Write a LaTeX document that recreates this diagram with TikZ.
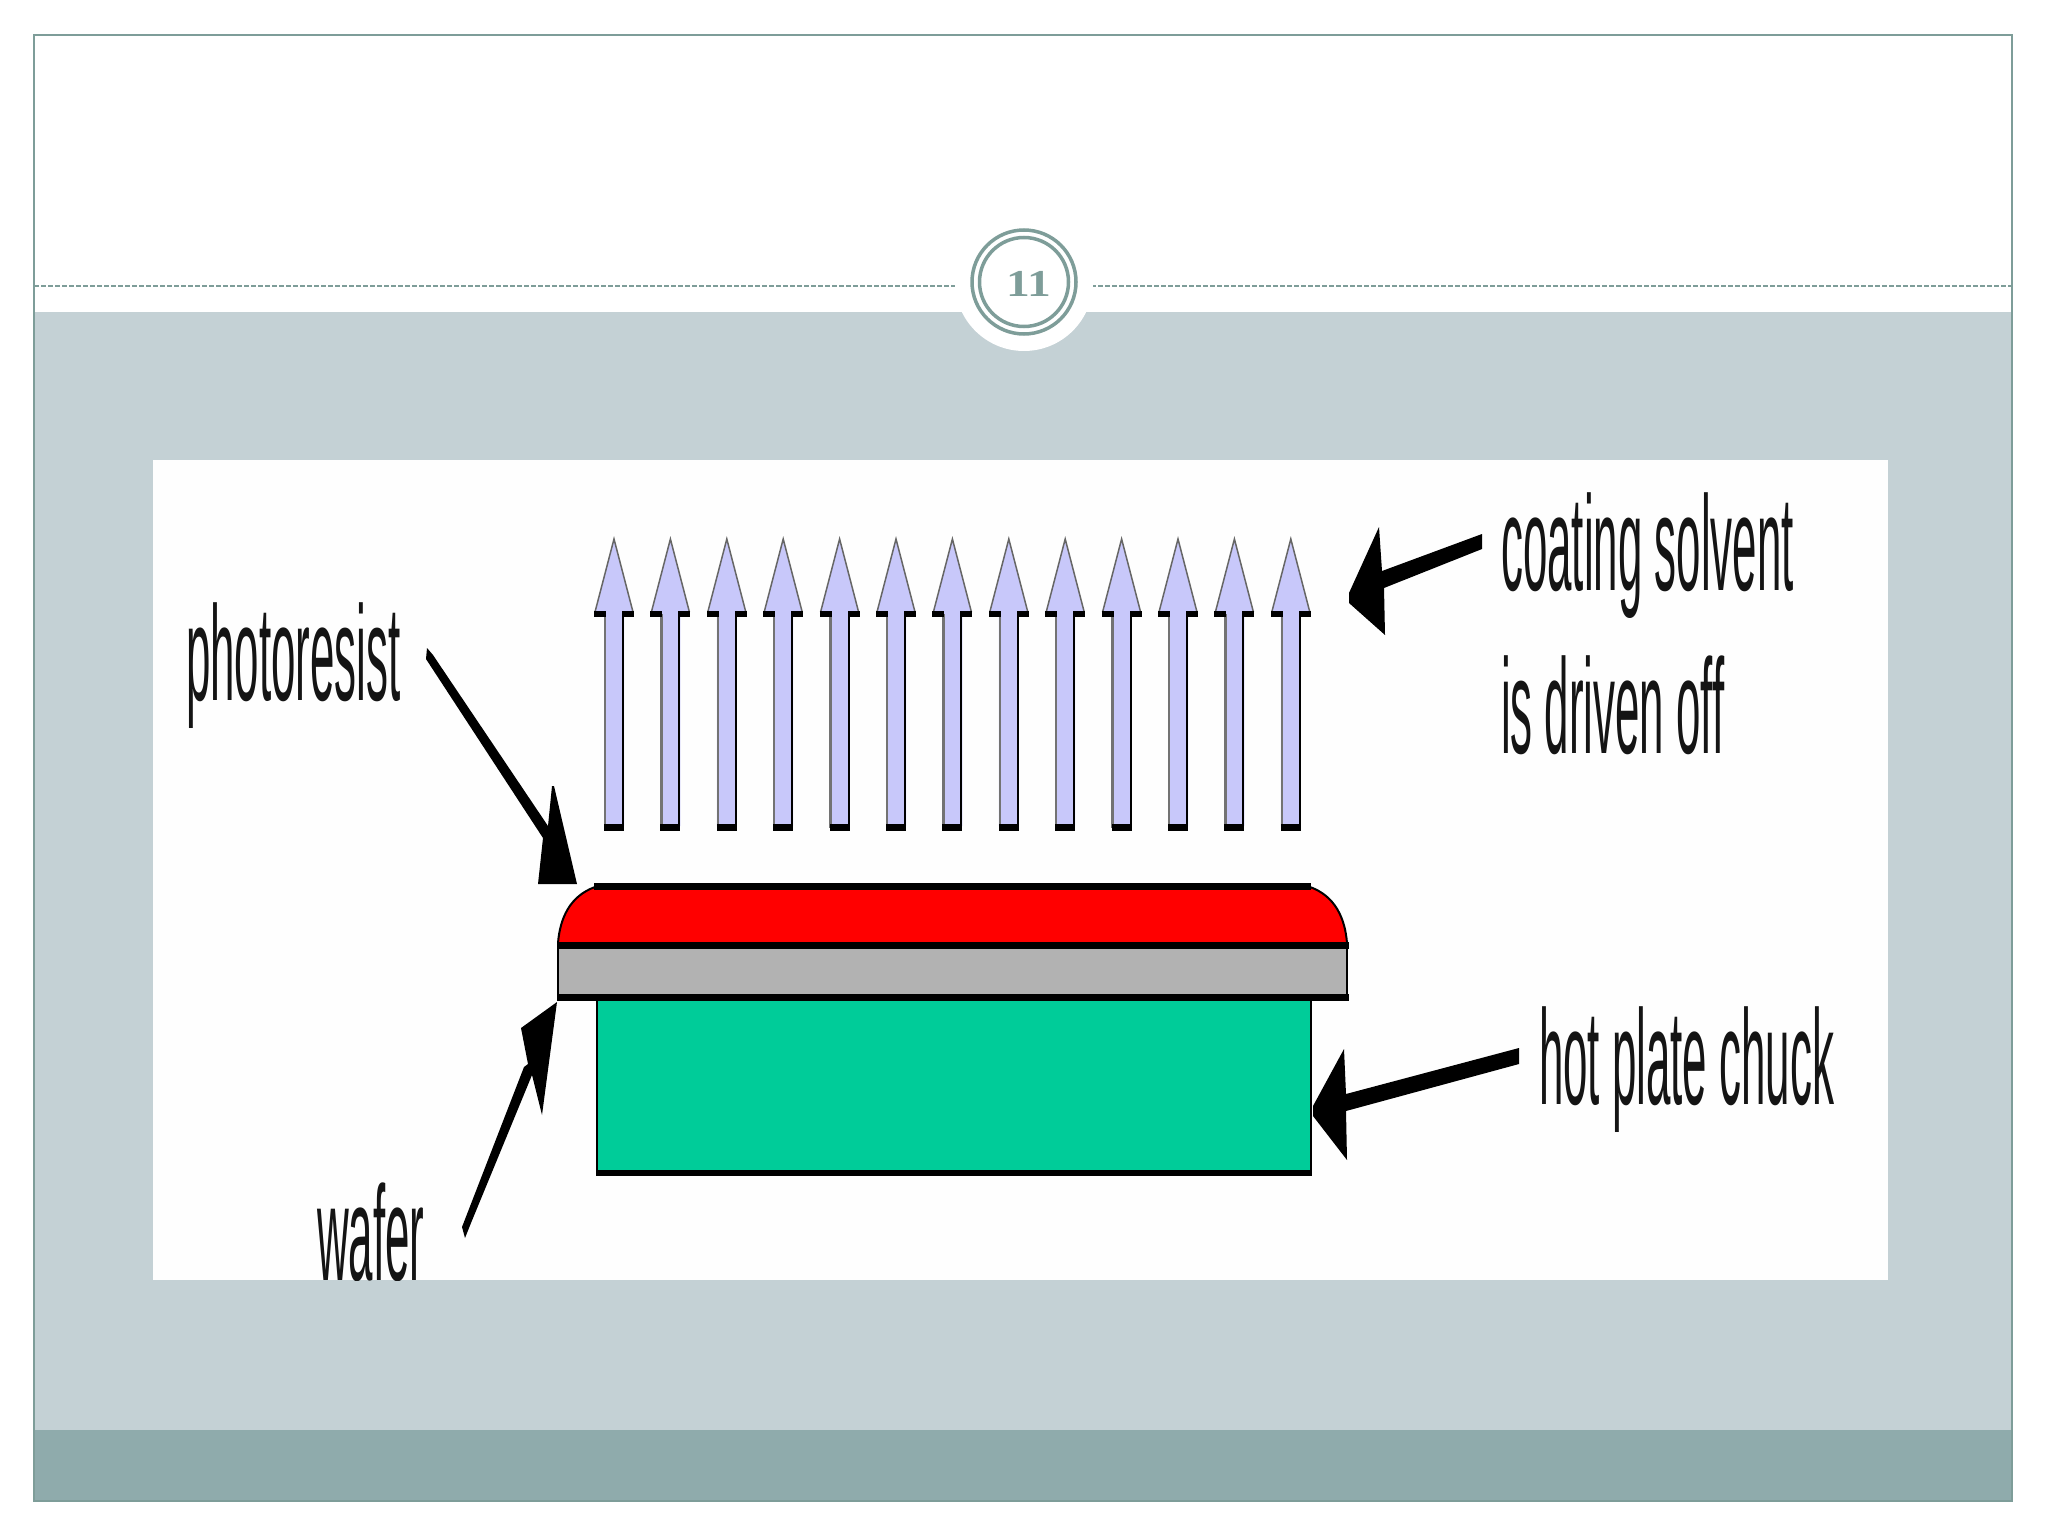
\documentclass[tikz,border=0pt]{standalone}
\usepackage{fontspec}
\setmainfont{Liberation Sans}
\newfontfamily\numfont{Liberation Serif}
\usetikzlibrary{positioning}
\definecolor{slideband}{HTML}{C4D1D5}
\definecolor{slidefoot}{HTML}{8FABAC}
\definecolor{slideline}{HTML}{7E9D99}
\definecolor{ventfill}{HTML}{C8C8FA}
\definecolor{chuckgreen}{HTML}{00CC99}
\definecolor{wafergray}{HTML}{B2B2B2}
\definecolor{paper}{HTML}{FEFEFE}
\tikzset{
    callout/.style={font=\fontsize{135}{135}\selectfont,xscale=0.325,anchor=base west,inner sep=0pt,text=black!92},
    pointer/.style={fill=black,draw=none}
}
\begin{document}
\begin{tikzpicture}[x=1pt,y=-1pt]
    \useasboundingbox (0,0) rectangle (2048,1536);
    \fill[white] (0,0) rectangle (2048,1536);

    % slide frame
    \fill[slideband] (34,312) rectangle (2012,1430);
    \fill[slidefoot] (34,1430) rectangle (2012,1501);
    \draw[slideline,line width=2pt] (34,34.7) rectangle (2012,1501);
    \draw[slideline,line width=1.5pt,dash pattern=on 5pt off 2pt] (34,286) -- (2012,286);
    \fill[white] (1024,282) circle (69);
    \draw[slideline,line width=3.5pt] (1024,282) circle (52);
    \draw[slideline,line width=3.5pt] (1024,282) circle (44.5);
    \node[inner sep=0pt,text=slideline,xscale=1.25] (pagenum) at (1029,284) {\fontsize{38}{38}\selectfont\numfont\bfseries 11};

    \begin{scope}
        \clip (153,460) rectangle (1888,1280);
        \fill[paper] (153,460) rectangle (1888,1280);

        % vapour arrows
        \foreach \i in {0,...,12} {
            \pgfmathsetmacro{\x}{614+56.4*\i}
            \fill[ventfill] (\x-19,614) -- (\x,539) -- (\x+19,614) -- (\x+10,614) -- (\x+10,826) -- (\x-10,826) -- (\x-10,614) -- cycle;
            \draw[black!60,line width=1.5pt] (\x-19,612) -- (\x,539) -- (\x+19,612);
            \draw[black!55,line width=2.5pt] (\x-9,614) -- (\x-9,828);
            \draw[black,line width=2pt] (\x+9,614) -- (\x+9,828);
            \fill[black] (\x-10,824) rectangle (\x+10,831);
            \fill[black] (\x-20,611) rectangle (\x-8,617);
            \fill[black] (\x+8,611) rectangle (\x+20,617);
        }

        % chuck, wafer, resist
        \fill[chuckgreen] (597,1000) rectangle (1311,1173);
        \draw[black,line width=2.5pt] (597,1000) -- (597,1174) (1311,1000) -- (1311,1174);
        \fill[black] (595.5,1170) rectangle (1312,1176);
        \fill[wafergray] (558,948) rectangle (1347,995);
        \draw[black,line width=2.5pt] (558,942) -- (558,1000) (1347,942) -- (1347,1000);
        \fill[black] (556.5,994) rectangle (1348.5,1001);
        \fill[red] (558,943) .. controls (560,918) and (570,896) .. (595,887) -- (1310,887) .. controls (1335,896) and (1345,918) .. (1347,943) -- cycle;
        \draw[black,line width=2pt] (558,943) .. controls (560,918) and (570,896) .. (595,887);
        \draw[black,line width=2pt] (1310,887) .. controls (1335,896) and (1345,918) .. (1347,943);
        \fill[black] (594,883) rectangle (1311,890);
        \fill[black] (556.5,942) rectangle (1348.5,949);

        % labels
        \node[callout] (resistlabel) at (186,700) {photoresist};
        \node[callout] (solventlabel) at (1501,590) {coating solvent};
        \node[callout] (drivenlabel) at (1501,753) {is driven off};
        \node[callout] (chucklabel) at (1539,1104) {hot plate chuck};
        \node[callout] (waferlabel) at (317,1280) {wafer};

        % pointers
        \fill[pointer] (427,648) -- (433,655) -- (548,826) -- (552,786) -- (554,786) -- (577,884) -- (538,884) -- (543,838) -- (426,659) -- cycle;
        \fill[pointer] (471,1223) -- (532,1075) -- (542,1115) -- (557,1002) -- (521,1028) -- (528,1064) -- (524,1067) -- (462,1227) -- (465,1238) -- cycle;
        \fill[pointer] (1482,534) -- (1482,549) -- (1384,588) -- (1385,635) -- (1349,603) -- (1349,593) -- (1379,527) -- (1382,571) -- cycle;
        \fill[pointer] (1519,1048) -- (1519,1064) -- (1346,1111) -- (1347,1160) -- (1313,1116) -- (1313,1106) -- (1344,1049) -- (1346,1094) -- cycle;
    \end{scope}
\end{tikzpicture}
\end{document}
